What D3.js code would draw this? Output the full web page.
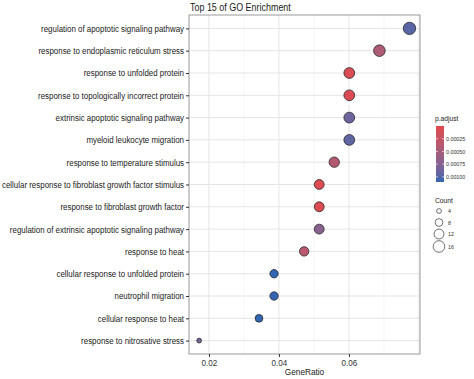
<!DOCTYPE html>
<html><head><meta charset="utf-8">
<script src="https://cdn.jsdelivr.net/npm/d3@7"></script>
<style>body{margin:0;background:#fff}svg{display:block}text{font-family:"Liberation Sans",Arial,sans-serif}</style>
</head><body><div id="chart"></div>
<script>
const terms = ["regulation of apoptotic signaling pathway","response to endoplasmic reticulum stress","response to unfolded protein","response to topologically incorrect protein","extrinsic apoptotic signaling pathway","myeloid leukocyte migration","response to temperature stimulus","cellular response to fibroblast growth factor stimulus","response to fibroblast growth factor","regulation of extrinsic apoptotic signaling pathway","response to heat","cellular response to unfolded protein","neutrophil migration","cellular response to heat","response to nitrosative stress"];
const geneRatio = [0.0773,0.0687,0.0601,0.0601,0.0601,0.0601,0.0558,0.0515,0.0515,0.0515,0.0472,0.0386,0.0386,0.0343,0.0172];
const counts = [18,16,14,14,14,14,13,12,12,12,11,9,9,8,4];
const pAdjust = [0.00098,0.00045,0.00006,0.00006,0.00088,0.00094,0.00040,0.00005,0.00005,0.00072,0.00036,0.00110,0.00110,0.00110,0.00082];
const xTicks = [0.02,0.04,0.06];
const colorTicks = [0.00025,0.00050,0.00075,0.00100];
const sizeTicks = [4,8,12,16];

const W=474,H=379;
const m={l:189,r:420,t:15,b:354};
const K=0.86; // horizontal squeeze of glyphs as in reference
const svg=d3.select("#chart").append("svg").attr("width",W).attr("height",H);

function txt(parent,x,y,s,size,fill,anchor){
  return parent.append("text").attr("transform",`translate(${x},${y}) scale(${K},1)`)
    .attr("font-size",size).attr("fill",fill||"#1a1a1a").attr("text-anchor",anchor||"start").text(s);
}

const x=d3.scaleLinear().domain([0.0143,0.0803]).range([m.l,m.r]);
const y=d3.scalePoint().domain(terms).range([m.t,m.b]).padding(0.6);
const pMin=0.0000, pMax=0.0011;
const color=d3.scaleLinear().domain([pMin,pMax]).range(["#e2484d","#3266b2"]).interpolate(d3.interpolateLab);
const area=d3.scaleLinear().domain([4,18]).range([2.4*2.4,6.2*6.2]);
const rad=c=>Math.sqrt(area(c));

// panel grid
const g=svg.append("g");
const minor=[0.03,0.05,0.07];
g.selectAll(".mn").data(minor).join("line").attr("x1",d=>x(d)).attr("x2",d=>x(d)).attr("y1",m.t).attr("y2",m.b).attr("stroke","#f0f0f0").attr("stroke-width",0.6);
g.selectAll(".mj").data(xTicks.concat([0.08])).join("line").attr("x1",d=>x(d)).attr("x2",d=>x(d)).attr("y1",m.t).attr("y2",m.b).attr("stroke","#e5e5e5").attr("stroke-width",1);
g.selectAll(".hy").data(terms).join("line").attr("x1",m.l).attr("x2",m.r).attr("y1",d=>y(d)).attr("y2",d=>y(d)).attr("stroke","#e5e5e5").attr("stroke-width",1);
g.append("rect").attr("x",m.l).attr("y",m.t).attr("width",m.r-m.l).attr("height",m.b-m.t).attr("fill","none").attr("stroke","#9a9a9a").attr("stroke-width",1);

// axes
const xa=svg.append("g").attr("transform",`translate(0,${m.b})`).call(d3.axisBottom(x).tickValues(xTicks).tickSize(3).tickPadding(2).tickFormat(d3.format(".2f")));
xa.select(".domain").remove();
xa.selectAll("line").attr("stroke","#333");
xa.selectAll("text").attr("font-size",9.4).attr("fill","#333").attr("transform",`scale(${K},1)`);
const ya=svg.append("g").attr("transform",`translate(${m.l},0)`).call(d3.axisLeft(y).tickSize(3).tickPadding(2));
ya.select(".domain").remove();
ya.selectAll("line").attr("stroke","#333");
ya.selectAll("text").attr("font-size",9.2).attr("fill","#1a1a1a").attr("x",-5/K).attr("transform",`scale(${K},1)`);

// points
const idx=d3.range(terms.length);
svg.append("g").selectAll("circle").data(idx).join("circle")
 .attr("cx",i=>x(geneRatio[i])).attr("cy",i=>y(terms[i])).attr("r",i=>rad(counts[i]))
 .attr("fill",i=>color(pAdjust[i])).attr("stroke","#2a2a2a").attr("stroke-width",0.8);

// titles
txt(svg,190,11,"Top 15 of GO Enrichment",10.4);
txt(svg,(m.l+m.r)/2,375,"GeneRatio",9.6,"#1a1a1a","middle");

// color legend
const defs=svg.append("defs");
const lg=defs.append("linearGradient").attr("id","grad").attr("x1",0).attr("x2",0).attr("y1",0).attr("y2",1);
d3.range(0,1.0001,0.1).forEach(t=>lg.append("stop").attr("offset",t).attr("stop-color",color(pMin+t*(pMax-pMin))));
const cb=d3.scaleLinear().domain([pMin,pMax]).range([126,182]);
txt(svg,435,121,"p.adjust",7.8);
svg.append("rect").attr("x",436).attr("y",126).attr("width",8).attr("height",56).attr("fill","url(#grad)");
colorTicks.forEach(v=>{
  svg.append("line").attr("x1",436).attr("x2",438).attr("y1",cb(v)).attr("y2",cb(v)).attr("stroke","#fff").attr("stroke-width",0.6);
  svg.append("line").attr("x1",442).attr("x2",444).attr("y1",cb(v)).attr("y2",cb(v)).attr("stroke","#fff").attr("stroke-width",0.6);
  txt(svg,446,cb(v)+2.1,d3.format(".5f")(v),6.2,"#333");
});

// size legend
txt(svg,435,203,"Count",7.8);
const sy=[211,222.5,234,246.5];
sizeTicks.forEach((c,i)=>{
  svg.append("circle").attr("cx",439).attr("cy",sy[i]).attr("r",rad(c)).attr("fill","none").attr("stroke","#333").attr("stroke-width",0.7);
  txt(svg,448,sy[i]+2.1,String(c),6.2,"#333");
});
</script></body></html>
